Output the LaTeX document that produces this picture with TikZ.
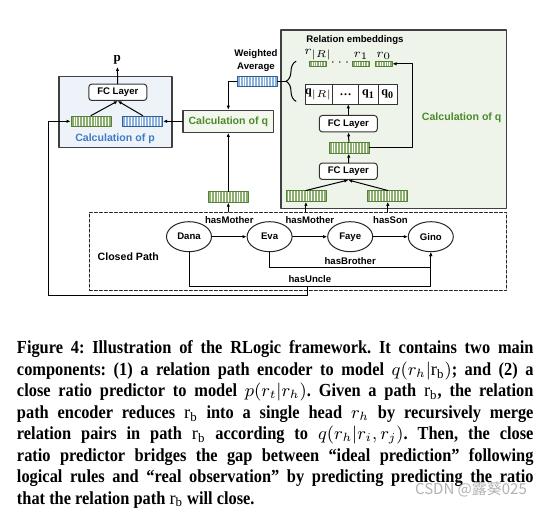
\documentclass[tikz,border=0pt]{standalone}
\usepackage{fontspec}
\setmainfont{Liberation Serif}
\newfontfamily\capfont{Liberation Serif}[FakeStretch=0.89]
\newfontfamily\figfont{Liberation Sans}
\newfontfamily\cjkfont{Noto Sans CJK SC}
\usetikzlibrary{arrows.meta, positioning, calc, shapes.geometric, decorations.pathreplacing}

\definecolor{vecgreen}{HTML}{55803A}
\definecolor{vecgreenfill}{HTML}{8DB06F}
\definecolor{vecblue}{HTML}{2F5F95}
\definecolor{vecbluefill}{HTML}{8AB2DD}
\definecolor{panelblue}{HTML}{EEF3FA}
\definecolor{panelgreen}{HTML}{EEF4EA}
\definecolor{boxgreen}{HTML}{F3F8EF}
\definecolor{txtgreen}{HTML}{4C8A2C}
\definecolor{txtblue}{HTML}{3E7CC3}

\tikzset{
    stripes/.style={path picture={
        \foreach \k [evaluate=\k as \f using \k/(#1+1)] in {1,...,#1}
            \draw[white, line width=0.3pt]
            ($(path picture bounding box.south west)!\f!(path picture bounding box.south east)$) --
            ($(path picture bounding box.north west)!\f!(path picture bounding box.north east)$);
    }},
    lbl/.style={font=\figfont\fontsize{4.8}{6.2}\selectfont\bfseries, inner sep=0pt},
    ttl/.style={font=\figfont\fontsize{5.3}{6.3}\selectfont\bfseries, inner sep=0pt},
    gvec/.style={draw=vecgreen, fill=vecgreenfill, line width=0.4pt, minimum width=20pt,
        minimum height=5.3pt, inner sep=0pt, stripes=13},
    bvec/.style={draw=vecblue, fill=vecbluefill, line width=0.4pt, minimum width=20pt,
        minimum height=5.3pt, inner sep=0pt, stripes=13},
    svec/.style={draw=vecgreen, fill=vecgreenfill, line width=0.3pt, minimum width=8.5pt,
        minimum height=2.2pt, inner sep=0pt, stripes=6},
    fcbox/.style={lbl, draw=black!80, fill=white, rounded corners=1.5pt, line width=0.5pt,
        minimum width=29pt, minimum height=8.2pt},
    calcbox/.style={ttl, draw=black!75, fill=boxgreen, line width=0.6pt, text=txtgreen,
        minimum width=45.3pt, minimum height=11pt},
    qcell/.style={draw=black!80, fill=white, line width=0.5pt, minimum height=10pt,
        inner sep=0pt, outer sep=0pt, font=\fontsize{6}{7}\selectfont},
    person/.style={lbl, ellipse, draw=black!85, fill=white, line width=0.5pt,
        minimum width=22.5pt, minimum height=15pt},
    rtxt/.style={font=\fontsize{6}{7}\selectfont, inner sep=0pt},
    captiontxt/.style={text width=258.25pt, align=justify, inner sep=0pt,
        font=\capfont\bfseries\fontsize{9.2}{10.72}\selectfont\frenchspacing}
}

\begin{document}
\begin{tikzpicture}[x=0.5pt, y=-0.5pt, >={Latex[length=2pt,width=1.7pt]},
        line cap=round, line join=round, line width=0.5pt]

    \fill[white] (0,0) rectangle (542,508);
    \useasboundingbox (0,0) rectangle (542,508);

    % (1) Calculation of p
    \node[draw=black!75, fill=panelblue, line width=0.6pt, minimum width=56.5pt,
        minimum height=35.5pt] (panelP) at (115.5,112.2) {};
    \node[fcbox] (fcP) at (117.8,92.3) {FC Layer};
    \node[gvec] (hp) at (91,121.3) {};
    \node[bvec] (qp) at (142.7,121.3) {};
    \node[ttl, text=txtblue] (titleP) at (115,139) {Calculation of p};
    \node[font=\bfseries\fontsize{6.5}{7}\selectfont, inner sep=1pt] (plabel) at (117.3,60) {p};
    \draw[->] (hp.north) -- (fcP.south);
    \draw[->] (qp.north) -- (fcP.south);
    \draw[->] (fcP) -- (plabel);

    % (2) Calculation of q, weighted average
    \node[calcbox] (calcq) at (228.3,121.3) {Calculation of q};
    \draw[->] (calcq) -- (qp);
    \node[bvec] (wavg) at (257.2,81.3) {};
    \node[lbl, align=center] (wavgTxt) at (256,60.5) {Weighted\\Average};
    \draw[->] (wavg.west) -| (calcq.north);
    \node[gvec] (v1) at (228.3,197) {};
    \draw[->] (v1) -- (calcq);

    % (3) Relation embeddings panel
    \node[draw=black!75, fill=panelgreen, line width=0.6pt, minimum width=112.85pt,
        minimum height=89.15pt] (panelQ) at (393.9,119.2) {};
    \node[lbl] (relTxt) at (355,40) {Relation embeddings};
    \node[svec] (rR) at (318,63.8) {};
    \node[svec] (r1) at (361,63.8) {};
    \node[svec] (r0) at (383.7,63.8) {};
    \node[rtxt, above=0.4pt of rR] (rRtxt) {$r_{|R|}$};
    \node[rtxt, above=0.4pt of r1] (r1txt) {$r_1$};
    \node[rtxt, above=0.4pt of r0] (r0txt) {$r_0$};
    \node[rtxt] (rdots) at (340,62.5) {$\cdots$};

    \node[qcell, minimum width=9.65pt] (qR) at (318.65,94.3) {$\mathbf{q}_{|R|}$};
    \node[qcell, minimum width=13.35pt, right=0pt of qR] (qdots) {\textbf{\dots}};
    \node[qcell, minimum width=9.65pt, right=0pt of qdots] (q1) {$\mathbf{q}_{\mathbf{1}}$};
    \node[qcell, minimum width=9.5pt, right=0pt of q1] (q0) {$\mathbf{q}_{\mathbf{0}}$};

    \draw[decorate, decoration={brace, amplitude=5pt}] (296,101.3) -- (296,61.3);
    \coordinate (braceTip) at (286,81.3);
    \draw (wavg.east) -- (braceTip);

    \node[fcbox] (fcU) at (348.3,123.7) {FC Layer};
    \node[gvec] (mid) at (349,148) {};
    \node[fcbox] (fcL) at (348.3,171.3) {FC Layer};
    \node[gvec] (b1) at (305.9,196.2) {};
    \node[gvec] (b2) at (387.8,196.2) {};
    \node[ttl, text=txtgreen] (titleQ) at (461.7,117.3) {Calculation of q};

    \draw[->] (b1.north) -- (fcL.south);
    \draw[->] (b2.north) -- (fcL.south);
    \draw[->] (fcL) -- (mid);
    \draw[->] (mid) -- (fcU);
    \draw[->] (fcU.north) -- (fcU.north |- qdots.south);
    \draw[->] (mid.east) -- ++(43,0) |- (r0.east);

    % (4) Closed path
    \node[draw=black!85, dash pattern=on 1.5pt off 1pt, minimum width=208.7pt,
        minimum height=39.2pt] (pathbox) at (298,251.5) {};
    \node[person] (dana) at (189,236.7) {Dana};
    \node[person, right=17.3pt of dana] (eva) {Eva};
    \node[person, right=17.3pt of eva] (faye) {Faye};
    \node[person, right=17.3pt of faye] (gino) {Gino};
    \node[ttl] (cpTxt) at (128.3,256.7) {Closed Path};

    \draw[->] (dana) -- (eva) node[midway, lbl, above=6.5pt] {hasMother};
    \draw[->] (eva) -- (faye) node[midway, lbl, above=6.5pt] {hasMother};
    \draw[->] (faye) -- (gino) node[midway, lbl, above=6.5pt] {hasSon};
    \draw[->] (eva.south) -- ++(0,15.6) -| (gino.south)
        node[pos=0.25, lbl, above=1.5pt] {hasBrother};
    \draw[->] (dana.south) -- ++(0,34.3) -| (gino.south)
        node[pos=0.25, lbl, above=1.5pt] {hasUncle}
        coordinate[pos=0.245] (uncleTap);

    \draw[->] (v1.south |- pathbox.north) -- (v1.south);
    \draw[->] (b1.south |- pathbox.north) -- (b1.south);
    \draw[->] (b2.south |- pathbox.north) -- (b2.south);

    % head relation fed back to p
    \coordinate (loopCorner) at (48.3,296);
    \draw[->] (uncleTap) |- (loopCorner) |- (hp.west);

    % Caption
    \node[captiontxt, anchor=north west] (caption) at (16.5,340.5) {%
        Figure 4: Illustration of the RLogic framework. It contains two main\linebreak
        components: (1) a relation path encoder to model $q(r_h|\mathrm{r_b})$; and (2) a\linebreak
        close ratio predictor to model $p(r_t|r_h)$. Given a path $\mathrm{r_b}$, the relation\linebreak
        path encoder reduces $\mathrm{r_b}$ into a single head $r_h$ by recursively merge\linebreak
        relation pairs in path $\mathrm{r_b}$ according to $q(r_h|r_i,r_j)$. Then, the close\linebreak
        ratio predictor bridges the gap between “ideal prediction” following\linebreak
        logical rules and “real observation” by predicting predicting the ratio\linebreak
        that the relation path $\mathrm{r_b}$ will close.};

    \node[font=\cjkfont\fontsize{7.5}{9}\selectfont, text=black!30, inner sep=0pt] (csdn)
        at (471,489) {CSDN @露葵025};
\end{tikzpicture}
\end{document}
